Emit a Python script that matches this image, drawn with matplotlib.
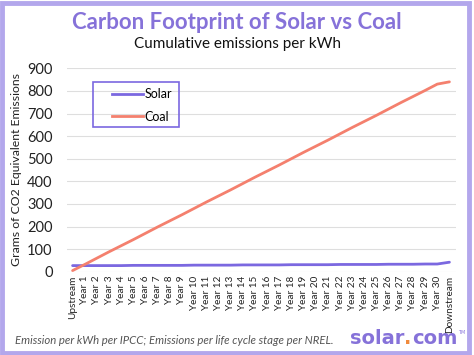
import matplotlib
matplotlib.use("Agg")
import matplotlib.pyplot as plt
from matplotlib.patches import Rectangle
from matplotlib.lines import Line2D

categories = ["Upstream"] + [f"Year {i}" for i in range(1, 31)] + ["Downstream"]
solar = [27, 27, 27, 27, 27, 28, 28, 28, 28, 28, 29, 29, 29, 29, 30, 30, 30,
         30, 31, 31, 31, 31, 32, 32, 32, 32, 33, 33, 33, 34, 34, 42]
coal = [5, 32, 60, 88, 115, 142, 170, 198, 225, 252, 280, 308, 335, 362, 390,
        418, 445, 472, 500, 528, 555, 582, 610, 638, 665, 692, 720, 748, 775,
        802, 830, 840]
yticks = [0, 100, 200, 300, 400, 500, 600, 700, 800, 900]

FONT = "Lato"
W, H = 474, 355
fig = plt.figure(figsize=(W / 100, H / 100), dpi=100)
fig.patch.set_facecolor("white")

# frame
fig.add_artist(Rectangle((2 / W, 2 / H), 467 / W, 350 / H, transform=fig.transFigure,
                         fill=False, edgecolor="#b3a7ec", linewidth=3.5))

ax = fig.add_axes([66.5 / W, (H - 271.7) / H, 389 / W, 203.4 / H])
x = list(range(len(categories)))
ax.plot(x, solar, color="#7b68e0", linewidth=2, solid_capstyle="round")
ax.plot(x, coal, color="#f4806e", linewidth=2, solid_capstyle="round")
ax.set_xlim(-0.5, len(categories) - 0.5)
ax.set_ylim(0, 900)
ax.set_yticks(yticks)
ax.set_yticklabels([str(v) for v in yticks], fontsize=10.5, family=FONT, color="#222222")
ax.set_xticks(x)
ax.set_xticklabels(categories, rotation=90, fontsize=7.2, family=FONT, color="#222222")
ax.tick_params(length=0, pad=3)
ax.tick_params(axis="y", pad=10)
ax.grid(axis="y", color="#dedede", linewidth=0.8)
ax.set_axisbelow(True)
for s in ax.spines.values():
    s.set_visible(False)
ax.set_ylabel("Grams of CO2 Equivalent Emissions", fontsize=8.8, family=FONT,
              color="#222222")
ax.yaxis.set_label_coords((22 - 66.5) / 389, 0.5)

# legend box
fig.add_artist(Rectangle((93 / W, 1 - 127 / H), 86 / W, 45 / H, transform=fig.transFigure,
                         fill=False, edgecolor="#7b68e0", linewidth=1.2))
handles = [Line2D([], [], color="#7b68e0", linewidth=2),
           Line2D([], [], color="#f4806e", linewidth=2)]
leg = fig.legend(handles, ["Solar", "Coal"], loc="upper left",
                 bbox_to_anchor=(112 / W, 1 - 88 / H),
                 frameon=False, prop={"family": FONT, "size": 9},
                 handlelength=2.5, handletextpad=0.1, borderpad=0, labelspacing=0.85,
                 borderaxespad=0)

fig.text(237 / W, 1 - 22.5 / H, "Carbon Footprint of Solar vs Coal", ha="center", va="center",
         fontsize=16, fontweight="bold", family=FONT, color="#8672d9")
fig.text(237 / W, 1 - 44 / H, "Cumulative emissions per kWh", ha="center", va="center",
         fontsize=11, family=FONT, color="#111111")
fig.text(15 / W, 1 - 340 / H, "Emission per kWh per IPCC; Emissions per life cycle stage per NREL.",
         ha="left", va="center", fontsize=8.2, style="italic", family=FONT, color="#555555")

# logo
t1 = fig.text(350 / W, 1 - 338 / H, "solar", ha="left", va="center", fontsize=14,
              fontweight="bold", family="DejaVu Sans", color="#8672d9")
fig.canvas.draw()
r = fig.canvas.get_renderer()
bb = t1.get_window_extent(r)
t2 = fig.text(bb.x1 / W, 1 - 338 / H, ".", ha="left", va="center", fontsize=14,
              fontweight="bold", family="DejaVu Sans", color="#f08a3c")
bb2 = t2.get_window_extent(r)
t3 = fig.text(bb2.x1 / W, 1 - 338 / H, "com", ha="left", va="center", fontsize=14,
              fontweight="bold", family="DejaVu Sans", color="#8672d9")
bb3 = t3.get_window_extent(r)
fig.text(bb3.x1 / W + 0.002, 1 - 333 / H, "TM", ha="left", va="center", fontsize=3.5,
         family="DejaVu Sans", color="#8672d9")

fig.savefig("out.png", dpi=100, facecolor="white")
